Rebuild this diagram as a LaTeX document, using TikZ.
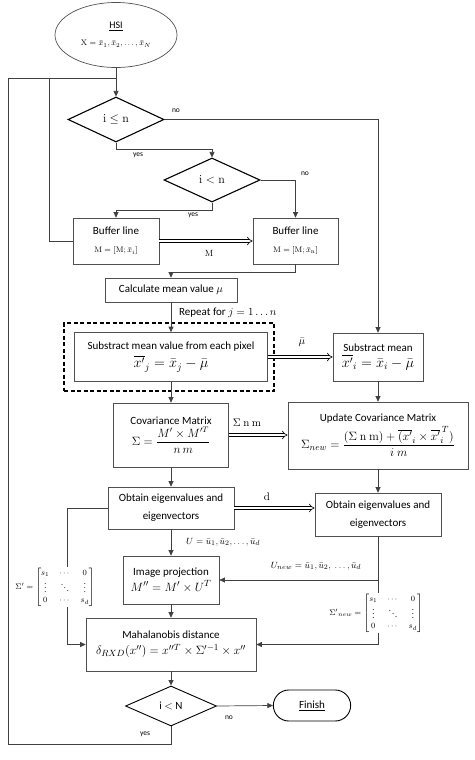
\documentclass[tikz,border=0pt]{standalone}
\usepackage{amsmath}
\usepackage[no-math]{fontspec}
\setmainfont{Carlito}
\usetikzlibrary{shapes.geometric,shapes.misc,arrows.meta}
\definecolor{boxc}{HTML}{505050}
\definecolor{linec}{HTML}{404040}
\begin{document}
\begin{tikzpicture}[x=1pt,y=-1pt,
  box/.style={draw=boxc, line width=0.7pt, align=center, inner sep=1pt, font=\fontsize{11}{13}\selectfont},
  dec/.style={diamond, draw=black, line width=1.1pt, inner sep=0pt, font=\fontsize{12}{14}\selectfont},
  conn/.style={draw=linec, line width=0.7pt},
  arr/.style={conn, -{Triangle[length=5.5pt,width=5pt]}},
  dbl/.style={draw=black, line width=0.6pt, double=white, double distance=2.4pt, -{Implies}},
  lab/.style={font=\fontsize{7.5}{9}\selectfont, inner sep=0pt},
  mlab/.style={font=\fontsize{11}{13}\selectfont, inner sep=0pt}
]
\useasboundingbox (0,0) rectangle (474,760);

% nodes
\node[ellipse, draw=boxc, line width=0.7pt, minimum width=122pt, minimum height=65pt, inner sep=0pt, align=center] (hsi) at (116,35)
  {\fontsize{10}{12}\selectfont\underline{HSI}\\[5pt]\fontsize{8}{10}\selectfont$\mathrm{X} = \bar{x}_1, \bar{x}_2, \dots, \bar{x}_N$};
\node[dec, minimum width=96pt, minimum height=45pt] (d1) at (116,119.5) {$\mathrm{i} \leq \mathrm{n}$};
\node[dec, minimum width=96pt, minimum height=44pt] (d2) at (212,180) {$\mathrm{i} < \mathrm{n}$};
\node[box, minimum width=86pt, minimum height=46pt] (b1) at (116,241)
  {Buffer line\\[5pt]\fontsize{8.5}{10}\selectfont$\mathrm{M} = [\mathrm{M}; \bar{x}_i]$};
\node[box, minimum width=85pt, minimum height=46pt] (b2) at (295.5,241)
  {Buffer line\\[5pt]\fontsize{8.5}{10}\selectfont$\mathrm{M} = [\mathrm{M}; \bar{x}_\mathrm{n}]$};
\node[box, minimum width=132pt, minimum height=24pt] (calc) at (171,290) {Calculate mean value $\mu$};
\node[draw=black, dashed, dash pattern=on 4pt off 2.5pt, line width=1.4pt, minimum width=210pt, minimum height=68pt] (dashbox) at (169,357) {};
\node[box, minimum width=193pt, minimum height=49pt] (sub) at (171,357)
  {Substract mean value from each pixel\\[3pt]{\fontsize{14}{16}\selectfont$\overline{x'}_{j} = \bar{x}_{j} - \bar{\mu}$}};
\node[box, minimum width=90pt, minimum height=48pt] (subm) at (378,357)
  {Substract mean\\[3pt]{\fontsize{14}{16}\selectfont$\overline{x'}_{i} = \bar{x}_{i} - \bar{\mu}$}};
\node[box, minimum width=115pt, minimum height=64pt] (cov) at (171,435)
  {Covariance Matrix\\[2pt]{\fontsize{12}{15}\selectfont$\Sigma = \dfrac{M' \times M'^{T}}{n\,m}$}};
\node[box, minimum width=180pt, minimum height=67pt] (upd) at (378,435.5)
  {Update Covariance Matrix\\[2pt]{\fontsize{12.5}{15}\selectfont$\Sigma_{new} = \dfrac{(\Sigma\ \mathrm{n\ m}) + \overline{(x'}_{i} \times \overline{x'}_{i}^{\,T})}{i\ m}$}};
\node[box, minimum width=126pt, minimum height=42pt] (eig1) at (171,508)
  {Obtain eigenvalues and\\[5pt]eigenvectors};
\node[box, minimum width=126pt, minimum height=43pt] (eig2) at (378,514.5)
  {Obtain eigenvalues and\\[5pt]eigenvectors};
\node[box, minimum width=96pt, minimum height=48pt] (proj) at (171,580)
  {Image projection\\[3pt]{\fontsize{12.5}{15}\selectfont$M'' = M' \times U^{T}$}};
\node[box, minimum width=170pt, minimum height=53pt] (mah) at (171,644.5)
  {Mahalanobis distance\\[3pt]{\fontsize{12.5}{15}\selectfont$\delta_{RXD}(x'') = x'^{\prime T} \times \Sigma'^{-1} \times x''$}};
\node[dec, minimum width=91pt, minimum height=40pt, line width=0.9pt] (d3) at (171,706) {\fontsize{11}{13}\selectfont i $<$ N};
\node[rounded rectangle, draw=black, line width=0.9pt, minimum width=84pt, minimum height=31pt, font=\fontsize{11}{13}\selectfont] (fin) at (312,705.5) {\underline{Finish}};

% coordinates
\coordinate (j) at (116,78);
\coordinate (il) at (49,78);
\coordinate (lt) at (8,78);
\coordinate (lb) at (8,744);

% connectors
\draw[arr] (hsi.south) -- (d1.north);
\draw[conn] (b1.west) -| (il) -- (j);
\draw[conn] (d3.south) |- (lb) -- (lt) -- (j);
\draw[arr] (d1.east) -| (subm.north);
\draw[arr] (d1.south) -- ++(0,7) -| (d2.north);
\draw[arr] (d2.east) -| (b2.north);
\draw[arr] (d2.south) -- ++(0,8) -| (b1.north);
\draw[dbl] (b1.east) -- (b2.west);
\draw[arr] (b2.south) -- ++(0,8) -| (calc.north);
\draw[arr] (calc.south) -- (sub.north);
\draw[dbl] (sub.east) -- (subm.west);
\draw[arr] (sub.south) -- (cov.north);
\draw[arr] (subm.south) -- (upd.north);
\draw[dbl] (cov.east) -- (cov.east -| upd.west);
\draw[arr] (cov.south) -- (eig1.north);
\draw[arr] (upd.south) -- (eig2.north);
\draw[dbl] (eig1.east) -- (eig1.east -| eig2.west);
\draw[arr] (eig1.south) -- (proj.north);
\draw[arr] (eig2.south) |- (proj.east);
\draw[arr] (eig2.south) |- (mah.east);
\draw[arr] (eig1.west) -- ++(-40,0) |- (mah.west);
\draw[arr] (proj.south) -- (mah.north);
\draw[arr] (mah.south) -- (d3.north);
\draw[arr] (d3.east) -- (fin.west);

% labels
\node[lab] at (176,111) {no};
\node[lab] at (138,155) {yes};
\node[lab] at (305,174) {no};
\node[lab] at (193,215) {yes};
\node[lab] at (229,718) {no};
\node[lab] at (145,734) {yes};
\node[mlab] at (209,253) {\fontsize{9}{11}\selectfont$\mathrm{M}$};
\node[mlab, anchor=west] at (179,313) {Repeat for $j = 1 \dots n$};
\node[mlab] at (302,342) {$\bar{\mu}$};
\node[mlab] at (247,423) {$\Sigma\ \mathrm{n\ m}$};
\node[mlab] at (267,497) {$\mathrm{d}$};
\node[mlab, anchor=west] at (186,542) {\fontsize{9.5}{11}\selectfont$U = \bar{u}_1, \bar{u}_2, \dots, \bar{u}_d$};
\node[mlab] at (316,566) {\fontsize{9.5}{11}\selectfont$U_{new} = \bar{u}_1, \bar{u}_2,\ \dots, \bar{u}_d$};
\node[mlab, fill=white, inner sep=1pt] at (55,587) {\fontsize{8}{10}\selectfont$\Sigma' = \begin{bmatrix} s_1 & \cdots & 0\\ \vdots & \ddots & \vdots\\ 0 & \cdots & s_d\end{bmatrix}$};
\node[mlab, fill=white, inner sep=1pt] at (376,613) {\fontsize{8.5}{10}\selectfont${\Sigma'}_{new} = \begin{bmatrix} s_1 & \cdots & 0\\ \vdots & \ddots & \vdots\\ 0 & \cdots & s_d\end{bmatrix}$};
\end{tikzpicture}
\end{document}
